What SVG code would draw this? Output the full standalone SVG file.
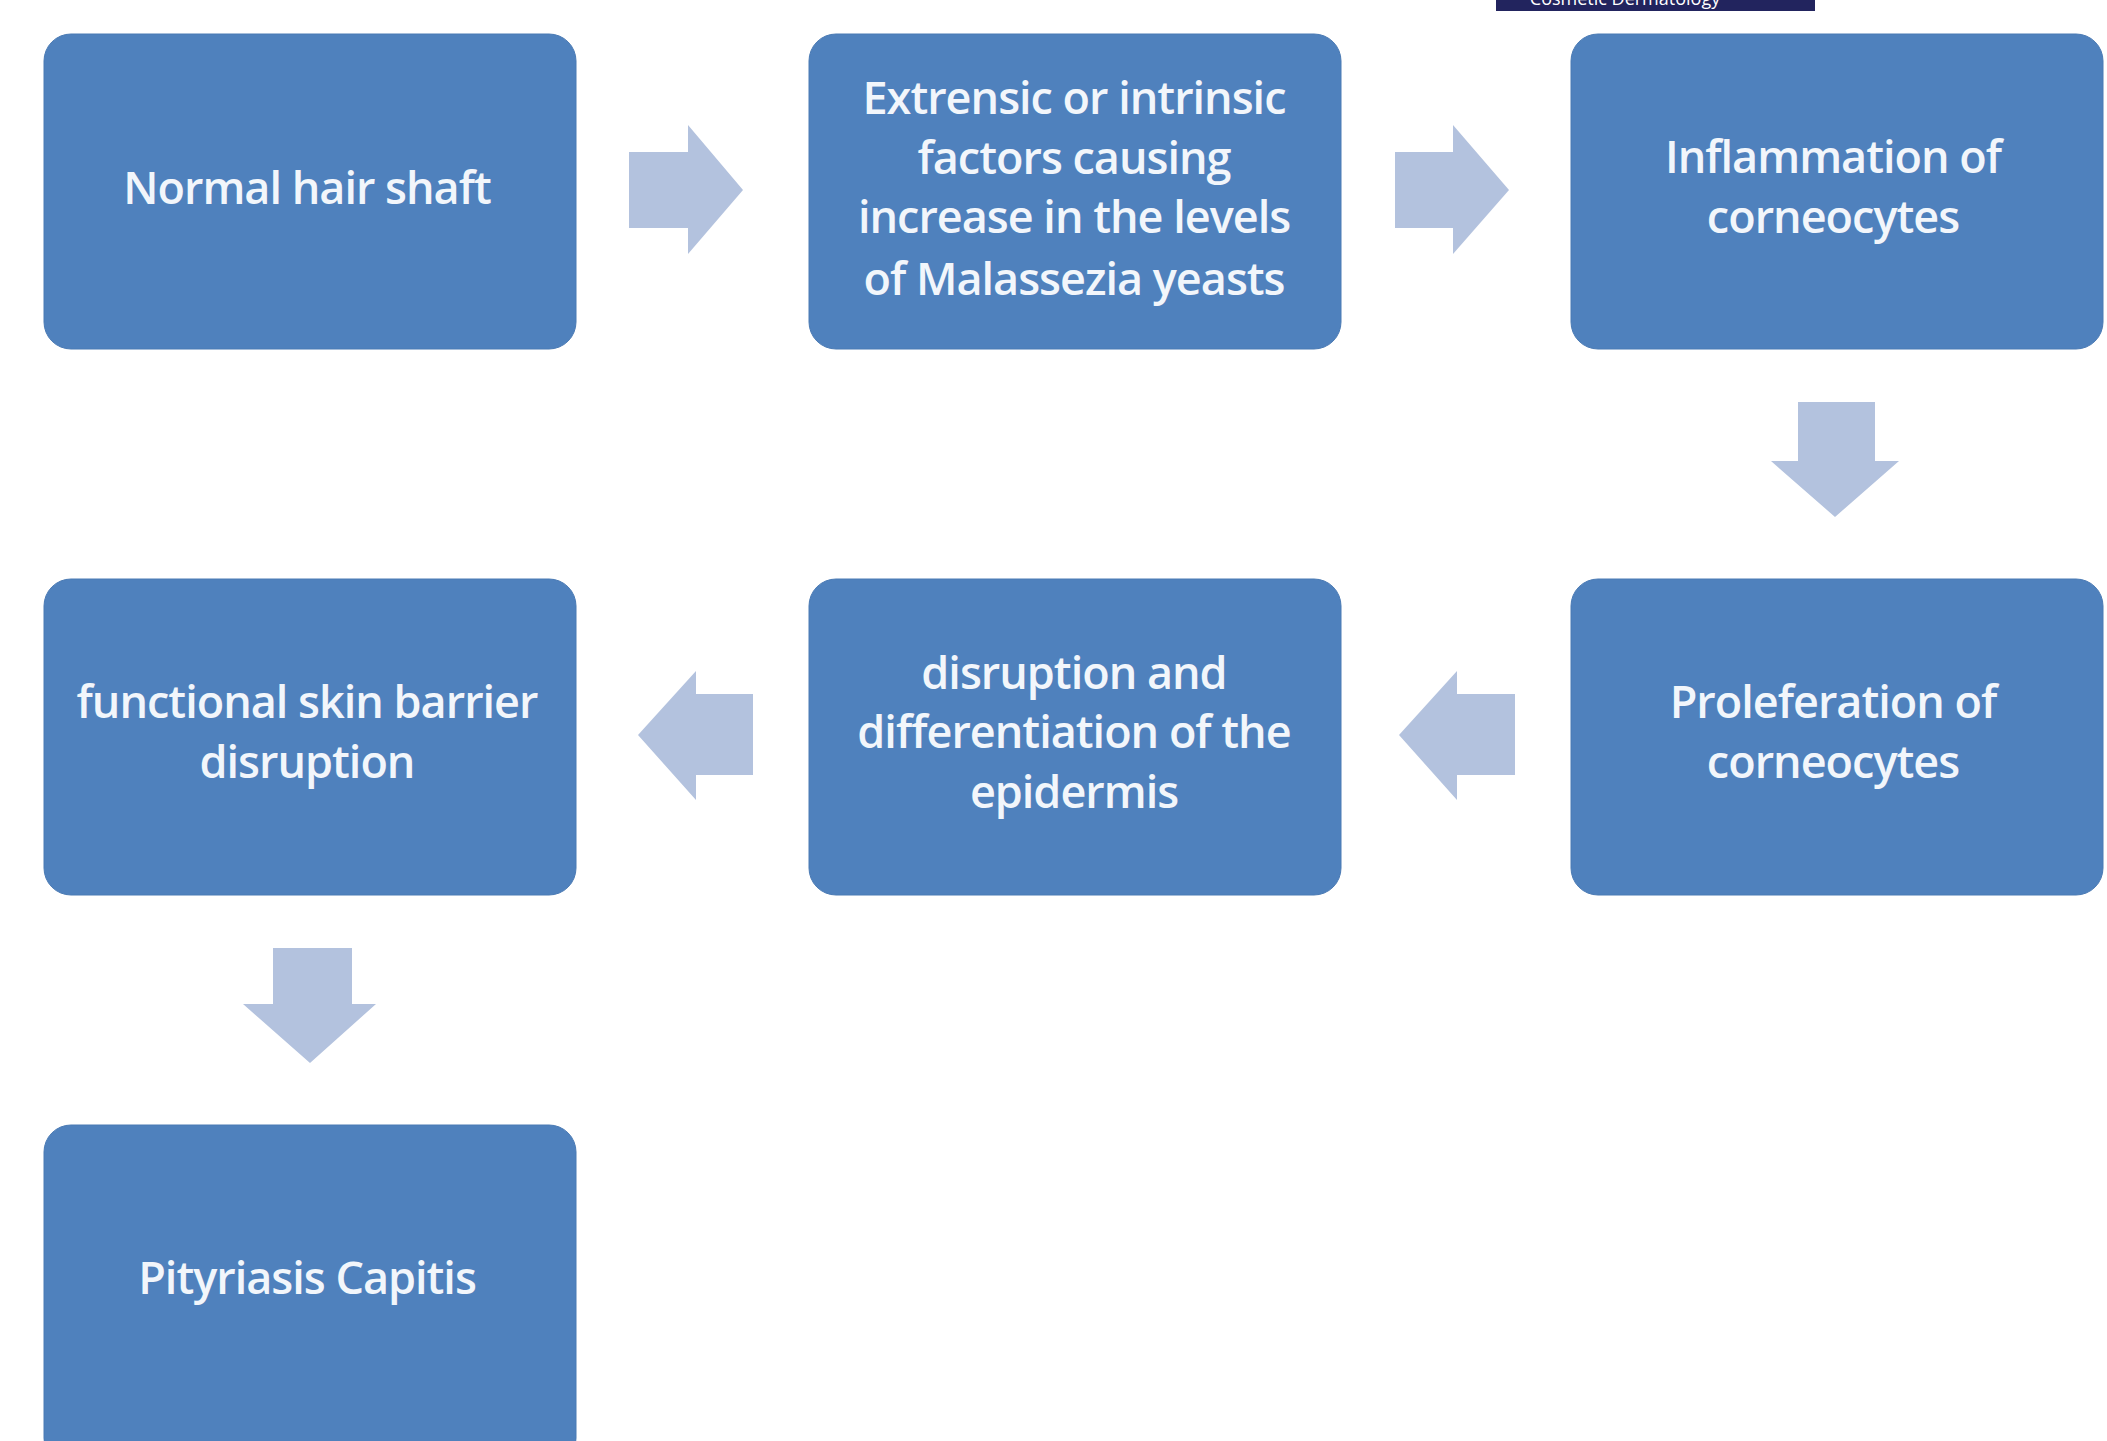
<svg xmlns="http://www.w3.org/2000/svg" width="2107" height="1441" viewBox="0 0 2107 1441">
<style>
.b{fill:#4f81bd;stroke:#4a7ab4;stroke-width:1}
.a{fill:#b3c2de}
text{font-family:"Open Sans",Lato,sans-serif;font-size:45px;font-weight:600;letter-spacing:-1px;fill:#f2f6fb;text-anchor:middle}
</style>
<rect width="2107" height="1441" fill="#fff"/>
<rect x="1496" y="0" width="319" height="11" fill="#22245e"/>
<text x="1625" y="5" style="font-size:18px;font-weight:400;letter-spacing:0;fill:#fff">Cosmetic Dermatology</text>
<g id="n1"><rect class="b" x="44" y="34" width="532" height="315" rx="27"/><text x="307" y="204">Normal hair shaft</text></g>
<g id="n2"><rect class="b" x="809" y="34" width="532" height="315" rx="27"/><text x="1074" y="114">Extrensic or intrinsic</text><text x="1074" y="174">factors causing</text><text x="1074" y="233">increase in the levels</text><text x="1074" y="295">of Malassezia yeasts</text></g>
<g id="n3"><rect class="b" x="1571" y="34" width="532" height="315" rx="27"/><text x="1833" y="173">Inflammation of</text><text x="1833" y="233">corneocytes</text></g>
<g id="n4"><rect class="b" x="1571" y="579" width="532" height="316" rx="27"/><text x="1833" y="718">Proleferation of</text><text x="1833" y="778">corneocytes</text></g>
<g id="n5"><rect class="b" x="809" y="579" width="532" height="316" rx="27"/><text x="1074" y="689">disruption and</text><text x="1074" y="748">differentiation of the</text><text x="1074" y="808">epidermis</text></g>
<g id="n6"><rect class="b" x="44" y="579" width="532" height="316" rx="27"/><text x="307" y="718">functional skin barrier</text><text x="307" y="778">disruption</text></g>
<g id="n7"><rect class="b" x="44" y="1125" width="532" height="340" rx="27"/><text x="307" y="1294">Pityriasis Capitis</text></g>
<g id="connectors">
<polygon class="a" points="629,152 688,152 688,125 743,190 688,254 688,228 629,228"/>
<polygon class="a" points="1395,152 1453,152 1453,125 1509,190 1453,254 1453,228 1395,228"/>
<polygon class="a" points="1798,402 1875,402 1875,461 1899,461 1835,517 1771,461 1798,461"/>
<polygon class="a" points="1515,694 1457,694 1457,671 1399,735 1457,800 1457,775 1515,775"/>
<polygon class="a" points="753,694 696,694 696,671 638,735 696,800 696,775 753,775"/>
<polygon class="a" points="273,948 352,948 352,1004 376,1004 310,1063 243,1004 273,1004"/>
</g>
</svg>
